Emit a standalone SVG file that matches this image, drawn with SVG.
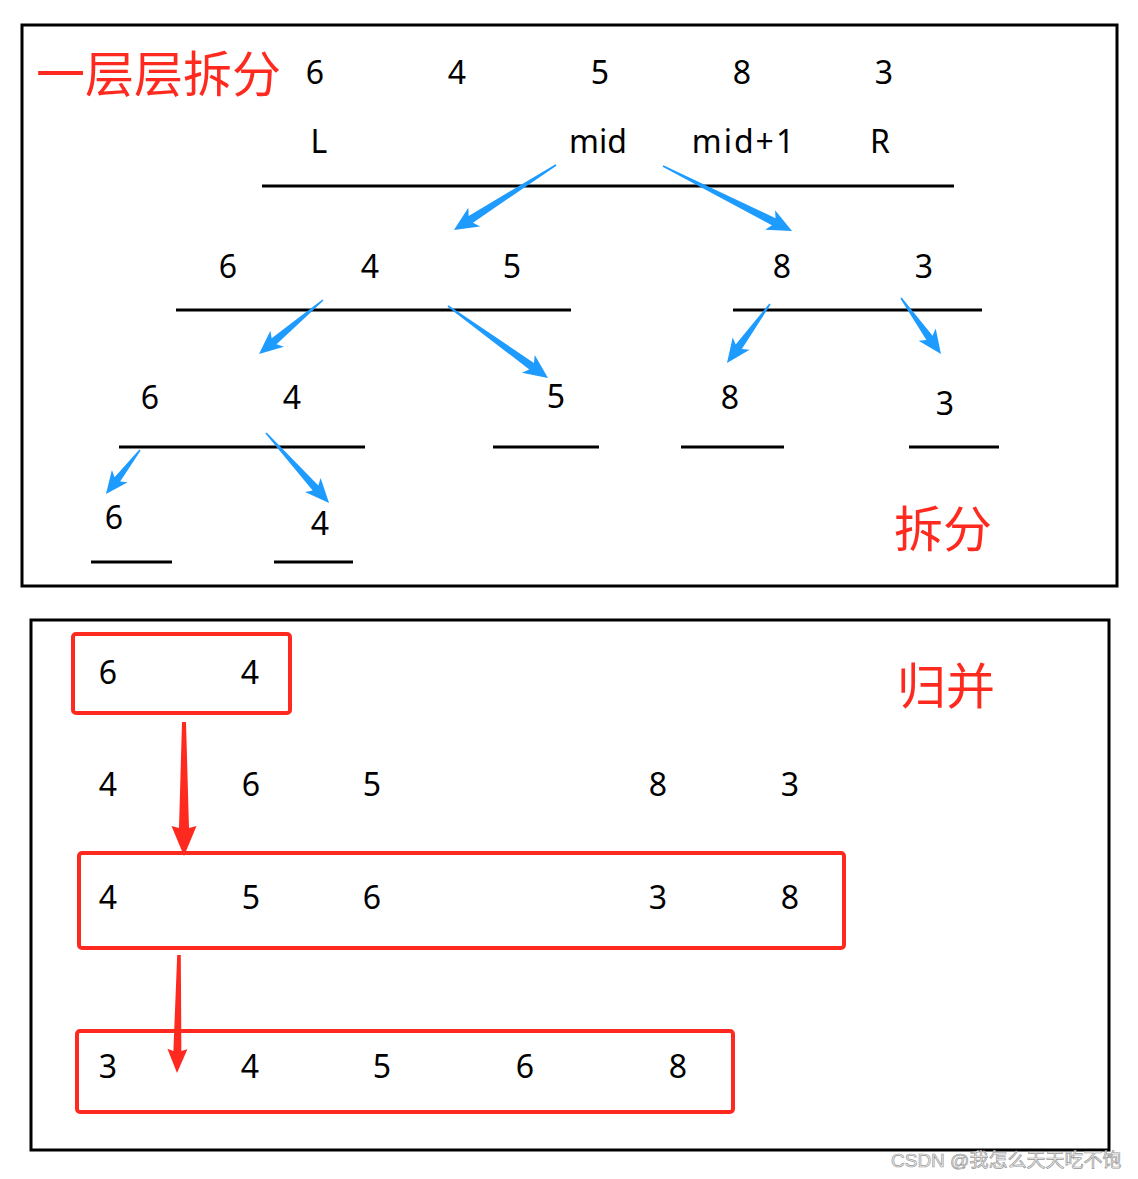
<svg xmlns="http://www.w3.org/2000/svg" width="1138" height="1179" viewBox="0 0 1138 1179">
<style>
.t{font-family:"Noto Sans","Noto Sans CJK SC",sans-serif;font-size:32px;fill:#000;text-anchor:middle}
.cn{font-family:"Noto Sans CJK SC","Noto Sans",sans-serif;font-size:49px;fill:#ff2a1f}
.frame{fill:none;stroke:#000;stroke-width:3}
.ln{stroke:#000;stroke-width:3}
.rb{fill:none;stroke:#ff2a1f;stroke-width:4}
.ba{fill:#1e9bff}
.ra{fill:#ff2a1f}
.wm{font-family:"Liberation Sans","Noto Sans CJK SC",sans-serif;font-size:19px;fill:#f4f4f4;stroke:#999;stroke-width:0.7}
</style>
<rect width="1138" height="1179" fill="#fff"/>
<g id="split-frame">
<rect class="frame" x="22" y="25" width="1095" height="561"/>
<text class="cn" x="36" y="92">一层层拆分</text>
<text class="cn" x="894" y="547">拆分</text>
</g>
<g id="row1">
<text class="t" x="315" y="84">6</text>
<text class="t" x="457" y="84">4</text>
<text class="t" x="600" y="84">5</text>
<text class="t" x="742" y="84">8</text>
<text class="t" x="884" y="84">3</text>
<text class="t" x="319" y="153">L</text>
<text class="t" x="598" y="153">mid</text>
<text class="t" x="744" y="153" letter-spacing="2">mid+1</text>
<text class="t" x="880" y="153">R</text>
<line class="ln" x1="262" y1="186" x2="954" y2="186"/>
</g>
<g id="row2-left">
<text class="t" x="228" y="278">6</text>
<text class="t" x="370" y="278">4</text>
<text class="t" x="512" y="278">5</text>
<line class="ln" x1="176" y1="310" x2="571" y2="310"/>
</g>
<g id="row2-right">
<text class="t" x="782" y="278">8</text>
<text class="t" x="924" y="278">3</text>
<line class="ln" x1="733" y1="310" x2="982" y2="310"/>
</g>
<g id="row3-64">
<text class="t" x="150" y="409">6</text>
<text class="t" x="292" y="409">4</text>
<line class="ln" x1="119" y1="447" x2="365" y2="447"/>
</g>
<g id="row3-5">
<text class="t" x="556" y="408">5</text>
<line class="ln" x1="493" y1="447" x2="599" y2="447"/>
</g>
<g id="row3-8">
<text class="t" x="730" y="409">8</text>
<line class="ln" x1="681" y1="447" x2="784" y2="447"/>
</g>
<g id="row3-3">
<text class="t" x="945" y="415">3</text>
<line class="ln" x1="909" y1="447" x2="999" y2="447"/>
</g>
<g id="row4-6">
<text class="t" x="114" y="529">6</text>
<line class="ln" x1="91" y1="562" x2="172" y2="562"/>
</g>
<g id="row4-4">
<text class="t" x="320" y="535">4</text>
<line class="ln" x1="274" y1="562" x2="353" y2="562"/>
</g>
<g id="connectors">
<g class="ba">
<polygon transform="translate(556 165) rotate(147.5)" points="0,-0.8 101,-4 97,-11 121,0 97,11 101,4 0,0.8"/>
<polygon transform="translate(663 166) rotate(26.74)" points="0,-0.8 124,-4 120,-11 144.5,0 120,11 124,4 0,0.8"/>
<polygon transform="translate(323 300) rotate(139.84)" points="0,-0.8 64,-3.8 60,-10.5 83.7,0 60,10.5 64,3.8 0,0.8"/>
<polygon transform="translate(448 306) rotate(35.75)" points="0,-0.8 103,-4 99,-11 123.2,0 99,11 103,4 0,0.8"/>
<polygon transform="translate(770 304) rotate(126.08)" points="0,-0.8 53,-3.8 49,-10.5 73,0 49,10.5 53,3.8 0,0.8"/>
<polygon transform="translate(901 298) rotate(54.46)" points="0,-0.8 49,-3.8 45,-10.5 68.8,0 45,10.5 49,3.8 0,0.8"/>
<polygon transform="translate(140 450) rotate(127.7)" points="0,-0.8 37,-3.5 33,-10 55.6,0 33,10 37,3.5 0,0.8"/>
<polygon transform="translate(266 433) rotate(48)" points="0,-0.8 74,-3.8 70,-10.5 94.2,0 70,10.5 74,3.8 0,0.8"/>
</g>
<g class="ra">
<polygon transform="translate(184 722) rotate(90)" points="0,-2 106,-5 104,-12.5 134,0 104,12.5 106,5 0,2"/>
<polygon transform="translate(179 955) rotate(90.97)" points="0,-1.8 96,-4 94,-10 118,0 94,10 96,4 0,1.8"/>
</g>
</g>
<g id="merge-frame">
<rect class="frame" x="31" y="620" width="1078" height="530"/>
<text class="cn" x="897" y="704">归并</text>
</g>
<g id="merge-box1">
<rect class="rb" x="73" y="634" width="217" height="79" rx="3"/>
<text class="t" x="108" y="684">6</text>
<text class="t" x="250" y="684">4</text>
</g>
<g id="merge-row">
<text class="t" x="108" y="796">4</text>
<text class="t" x="251" y="796">6</text>
<text class="t" x="372" y="796">5</text>
<text class="t" x="658" y="796">8</text>
<text class="t" x="790" y="796">3</text>
</g>
<g id="merge-box2">
<rect class="rb" x="79" y="853" width="765" height="95" rx="3"/>
<text class="t" x="108" y="909">4</text>
<text class="t" x="251" y="909">5</text>
<text class="t" x="372" y="909">6</text>
<text class="t" x="658" y="909">3</text>
<text class="t" x="790" y="909">8</text>
</g>
<g id="merge-box3">
<rect class="rb" x="77" y="1031" width="656" height="81" rx="3"/>
<text class="t" x="108" y="1078">3</text>
<text class="t" x="250" y="1078">4</text>
<text class="t" x="382" y="1078">5</text>
<text class="t" x="525" y="1078">6</text>
<text class="t" x="678" y="1078">8</text>
</g>
<text class="wm" x="891" y="1167">CSDN @我怎么天天吃不饱</text>
</svg>
